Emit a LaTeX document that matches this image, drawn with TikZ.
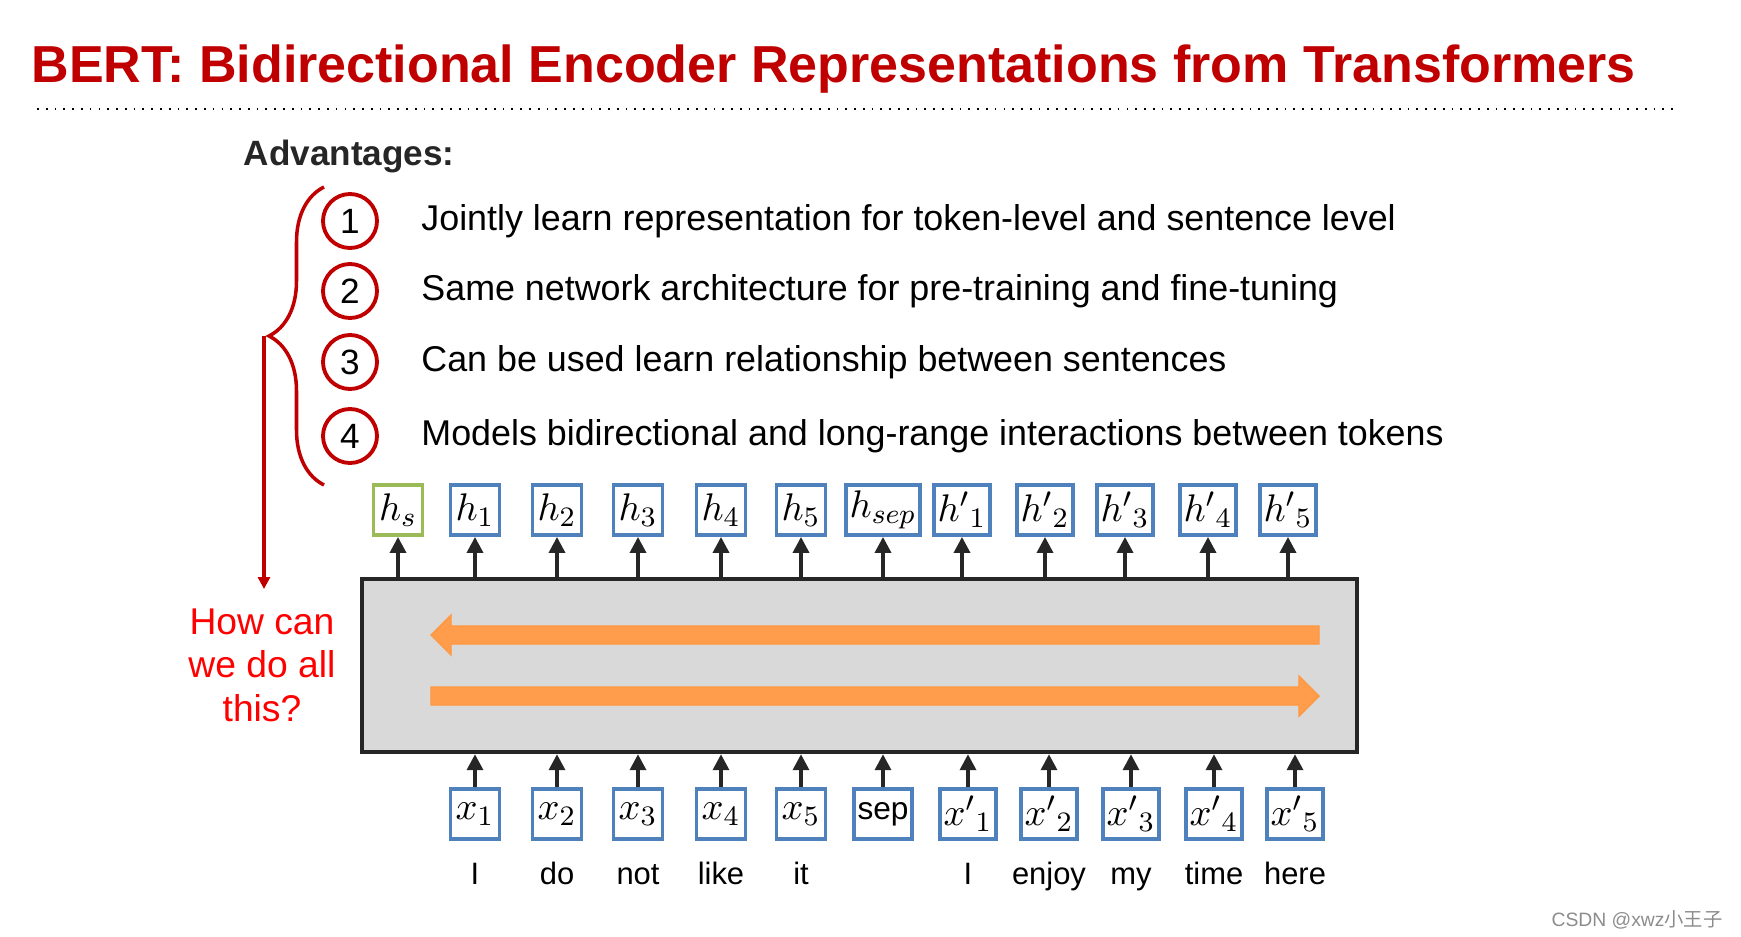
\documentclass[tikz,border=0pt]{standalone}
\usepackage{fontspec}
\setmainfont{Liberation Sans}
\newfontfamily\cjk{Noto Sans CJK SC}
\usetikzlibrary{arrows.meta,decorations.pathreplacing,shapes.arrows}
\definecolor{bertred}{HTML}{C00000}
\definecolor{askred}{HTML}{FF0000}
\definecolor{tokblue}{HTML}{4F81BD}
\definecolor{clsgreen}{HTML}{9BBB59}
\definecolor{flow}{HTML}{FF9D4D}
\tikzset{
  tok/.style={draw=tokblue,line width=1.1pt,fill=white,minimum width=4.9mm,minimum height=5mm,inner sep=1pt,font=\fontsize{11}{12}\selectfont},
  num/.style={circle,draw=bertred,line width=1.1pt,minimum size=5.4mm,inner sep=0pt,font=\fontsize{10}{12}\selectfont},
  item/.style={anchor=west,font=\fontsize{10.2}{12}\selectfont},
  up/.style={-{Triangle[length=1.6mm,width=1.6mm]},line width=1pt,draw=black!85},
  word/.style={font=\fontsize{8.8}{10}\selectfont,anchor=base}
}
\begin{document}
\begin{tikzpicture}[x=0.1mm,y=-0.1mm]
  \useasboundingbox (0,0) rectangle (1741,937);
  % title
  \node[anchor=base west,text=bertred,font=\fontsize{14.8}{18}\selectfont\bfseries,inner sep=0pt] (title) at (31,82) {BERT: Bidirectional Encoder Representations from Transformers};
  \draw[dotted,line width=0.5pt] (37,109) -- (1674,109);
  \node[anchor=base west,font=\fontsize{10}{12}\selectfont\bfseries,inner sep=0pt,text=black!85] (adv) at (243,165) {Advantages:};

  % advantages
  \foreach \i/\yy/\txt in {1/221/Jointly learn representation for token-level and sentence level,
                           2/291/Same network architecture for pre-training and fine-tuning,
                           3/362/Can be used learn relationship between sentences,
                           4/436/Models bidirectional and long-range interactions between tokens}{
    \node[num] (c\i) at (350,\yy) {\i};
    \node[item] (t\i) at (409,\yy) {\txt};
  }
  \draw[bertred,line width=1pt,decorate,decoration={brace,amplitude=5.5mm,aspect=0.5}] (324,485) -- (324,187);
  \coordinate (tip) at (264,336);
  \coordinate (ask) at (264,589);
  \draw[bertred,line width=1pt,-{Triangle[length=1.2mm,width=1.2mm]}] (tip) -- (ask);
  \node[text=askred,align=center,font=\fontsize{10.6}{12.4}\selectfont] (q) at (262,665) {How can\\we do all\\this?};

  % encoder
  \node[draw=black!85,line width=1.2pt,fill=black!15,minimum width=99.5mm,minimum height=17.3mm,anchor=north west] (enc) at (360,577) {};
  \draw[draw=flow!80!orange,fill=flow,line width=0.4pt] (431,635) -- ++(20,-20) -- ++(0,11) -- (1319,626) -- (1319,644) -- (451,644) -- ++(0,11) -- cycle;
  \draw[draw=flow!80!orange,fill=flow,line width=0.4pt] (1319,696) -- ++(-20,-20) -- ++(0,11) -- (431,687) -- (431,705) -- (1299,705) -- ++(0,11) -- cycle;

  % outputs
  \node[tok,draw=clsgreen] (h0) at (398,510) {$h_s$};
  \foreach \i/\xx/\lab in {1/475/h_1,2/557/h_2,3/638/h_3,4/721/h_4,5/801/h_5,6/883/h_{sep},
                           7/962/h'{}_1,8/1045/h'{}_2,9/1125/h'{}_3,10/1208/h'{}_4,11/1288/h'{}_5}{
    \node[tok] (h\i) at (\xx,510) {$\lab$};
  }
  \foreach \i in {0,...,11}{
    \draw[up] (h\i |- enc.north) -- (h\i.south);
  }

  % inputs
  \foreach \i/\xx/\lab/\w in {1/475/$x_1$/I,2/557/$x_2$/do,3/638/$x_3$/not,4/721/$x_4$/like,5/801/$x_5$/it,
                              6/883/{\fontsize{9}{10}\selectfont sep}/,7/968/$x'{}_1$/I,8/1049/$x'{}_2$/enjoy,
                              9/1131/$x'{}_3$/my,10/1214/$x'{}_4$/time,11/1295/$x'{}_5$/here}{
    \node[tok] (x\i) at (\xx,814) {\lab};
    \node[word] (w\i) at (\xx,884) {\w};
    \draw[up] (x\i.north) -- (x\i |- enc.south);
  }

  \node[anchor=base east,text=black!45,font=\fontsize{5.5}{6}\selectfont] (mark) at (1735,926) {CSDN @xwz{\cjk 小王子}};
\end{tikzpicture}
\end{document}
